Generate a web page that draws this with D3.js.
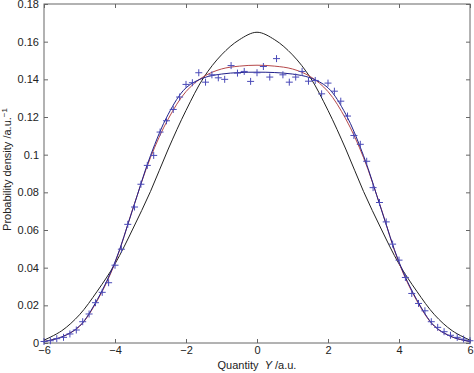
<!DOCTYPE html>
<html>
<head>
<meta charset="utf-8">
<script src="https://cdn.jsdelivr.net/npm/d3@7"></script>
<style>
  body { margin: 0; background: #fff; }
  text { font-family: "Liberation Sans", Arial, sans-serif; }
</style>
</head>
<body>
<div id="plot"></div>
<script>
// measured histogram points (+ markers)
const markerX = [-6.00, -5.82, -5.64, -5.45, -5.27, -5.09, -4.91, -4.73, -4.55, -4.36, -4.18,
  -4.00, -3.82, -3.64, -3.45, -3.27, -3.09, -2.91, -2.73, -2.55, -2.36, -2.18,
  -2.00, -1.82, -1.64, -1.45, -1.27, -1.09, -0.91, -0.73, -0.55, -0.36, -0.18,
  0, 0.18, 0.36, 0.55, 0.73, 0.91, 1.09, 1.27, 1.45, 1.64, 1.82, 2.00,
  2.18, 2.36, 2.55, 2.73, 2.91, 3.09, 3.27, 3.45, 3.64, 3.82, 4.00,
  4.18, 4.36, 4.55, 4.73, 4.91, 5.09, 5.27, 5.45, 5.64, 5.82, 6.00];
const markerY = [0.0008, 0.0012, 0.0023, 0.0030, 0.0048, 0.0069, 0.0113, 0.0154, 0.0214, 0.0269, 0.0320,
  0.0413, 0.0498, 0.0630, 0.0722, 0.0843, 0.0943, 0.0996, 0.1120, 0.1180, 0.1240, 0.1306,
  0.1373, 0.1382, 0.1435, 0.1385, 0.1424, 0.1408, 0.1400, 0.1473, 0.1433, 0.1442, 0.1389,
  0.1435, 0.1468, 0.1412, 0.1510, 0.1424, 0.1385, 0.1412, 0.1442, 0.1390, 0.1394, 0.1323, 0.1380,
  0.1337, 0.1284, 0.1205, 0.1102, 0.1055, 0.0965, 0.0825, 0.0746, 0.0643, 0.0525, 0.0440,
  0.0348, 0.0263, 0.0210, 0.0171, 0.0113, 0.0083, 0.0060, 0.0041, 0.0030, 0.0021, 0.0012];

// model curves
const curveX = [-6, -5.5, -5, -4.5, -4, -3.5, -3, -2.5, -2, -1.5, -1, -0.5, 0,
  0.5, 1, 1.5, 2, 2.5, 3, 3.5, 4, 4.5, 5, 5.5, 6];
const blueY = [0.0008, 0.0032, 0.0090, 0.0230, 0.0430, 0.0710, 0.0995, 0.1215, 0.1355, 0.1408, 0.1428, 0.1436, 0.1438,
  0.1436, 0.1428, 0.1408, 0.1355, 0.1215, 0.0995, 0.0710, 0.0430, 0.0230, 0.0090, 0.0032, 0.0008];
const redY = [0.0008, 0.0032, 0.0088, 0.0225, 0.0425, 0.0712, 0.0985, 0.1190, 0.1335, 0.1415, 0.1455, 0.1470, 0.1475,
  0.1470, 0.1455, 0.1415, 0.1335, 0.1190, 0.0985, 0.0712, 0.0425, 0.0225, 0.0088, 0.0032, 0.0008];
const blackY = [0.0015, 0.0065, 0.0150, 0.0275, 0.0420, 0.0605, 0.0805, 0.1030, 0.1235, 0.1410, 0.1530, 0.1610, 0.1650,
  0.1610, 0.1530, 0.1410, 0.1235, 0.1030, 0.0805, 0.0605, 0.0420, 0.0275, 0.0150, 0.0065, 0.0015];

const xTicks = [-6, -4, -2, 0, 2, 4, 6];
const yTicks = [0, 0.02, 0.04, 0.06, 0.08, 0.1, 0.12, 0.14, 0.16, 0.18];

const svgWidth = 474, svgHeight = 373;
const margin = { top: 4, right: 4, bottom: 30, left: 44 };
const w = svgWidth - margin.left - margin.right;
const h = svgHeight - margin.top - margin.bottom;

const svg = d3.select("#plot").append("svg")
  .attr("width", svgWidth)
  .attr("height", svgHeight);

const g = svg.append("g").attr("transform", `translate(${margin.left},${margin.top})`);

const x = d3.scaleLinear().domain([-6, 6]).range([0, w]);
const y = d3.scaleLinear().domain([0, 0.18]).range([h, 0]);

const axisColor = "#666";
const fmtX = d => d < 0 ? "\u2212" + Math.abs(d) : String(d);

// bottom axis with inward ticks
const xAxis = g.append("g").attr("transform", `translate(0,${h})`)
  .call(d3.axisBottom(x).tickValues(xTicks).tickFormat(fmtX).tickSizeInner(-4).tickSizeOuter(0).tickPadding(3));
const xTop = g.append("g")
  .call(d3.axisTop(x).tickValues(xTicks).tickFormat("").tickSizeInner(-4).tickSizeOuter(0));
const yAxis = g.append("g")
  .call(d3.axisLeft(y).tickValues(yTicks).tickFormat(d => d === 0 ? "0" : String(d)).tickSizeInner(-4).tickSizeOuter(0).tickPadding(5));
const yRight = g.append("g").attr("transform", `translate(${w},0)`)
  .call(d3.axisRight(y).tickValues(yTicks).tickFormat("").tickSizeInner(-4).tickSizeOuter(0));

[xAxis, xTop, yAxis, yRight].forEach(a => {
  a.select(".domain").remove();
  a.selectAll("line").attr("stroke", axisColor);
  a.selectAll("text").attr("fill", "#222").style("font-size", "11px")
    .style("font-family", "'Liberation Sans', Arial, sans-serif");
});

// box
g.append("rect")
  .attr("width", w).attr("height", h)
  .attr("fill", "none").attr("stroke", axisColor).attr("stroke-width", 1);

const line = d3.line().x(d => x(d[0])).y(d => y(d[1])).curve(d3.curveCatmullRom);

g.append("path").datum(curveX.map((v, i) => [v, blackY[i]]))
  .attr("d", line).attr("fill", "none").attr("stroke", "#222").attr("stroke-width", 1);
g.append("path").datum(curveX.map((v, i) => [v, redY[i]]))
  .attr("d", line).attr("fill", "none").attr("stroke", "#b5484a").attr("stroke-width", 1);
g.append("path").datum(curveX.map((v, i) => [v, blueY[i]]))
  .attr("d", line).attr("fill", "none").attr("stroke", "#20208a").attr("stroke-width", 1);

// + markers
const s = 3.5;
g.append("g").selectAll("path")
  .data(markerX.map((v, i) => [v, markerY[i]]))
  .enter().append("path")
  .attr("d", d => {
    const px = x(d[0]), py = y(d[1]);
    return `M${px - s},${py}H${px + s}M${px},${py - s}V${py + s}`;
  })
  .attr("stroke", "#4a4ab8").attr("stroke-width", 1).attr("fill", "none");

// x label
const xl = svg.append("text")
  .attr("x", margin.left + x(0))
  .attr("y", svgHeight - 4)
  .attr("text-anchor", "middle")
  .style("font-size", "11px")
  .attr("fill", "#222");
xl.append("tspan").text("Quantity\u00a0\u00a0");
xl.append("tspan").style("font-style", "italic").text("Y");
xl.append("tspan").text("\u00a0/a.u.");

// y label
const yl = svg.append("text")
  .attr("transform", `translate(11,${margin.top + h / 2 - 4}) rotate(-90)`)
  .attr("text-anchor", "middle")
  .style("font-size", "11px")
  .attr("fill", "#222");
yl.append("tspan").text("Probability density /a.u.");
yl.append("tspan").attr("dy", -4).style("font-size", "8px").text("\u22121");
</script>
</body>
</html>
